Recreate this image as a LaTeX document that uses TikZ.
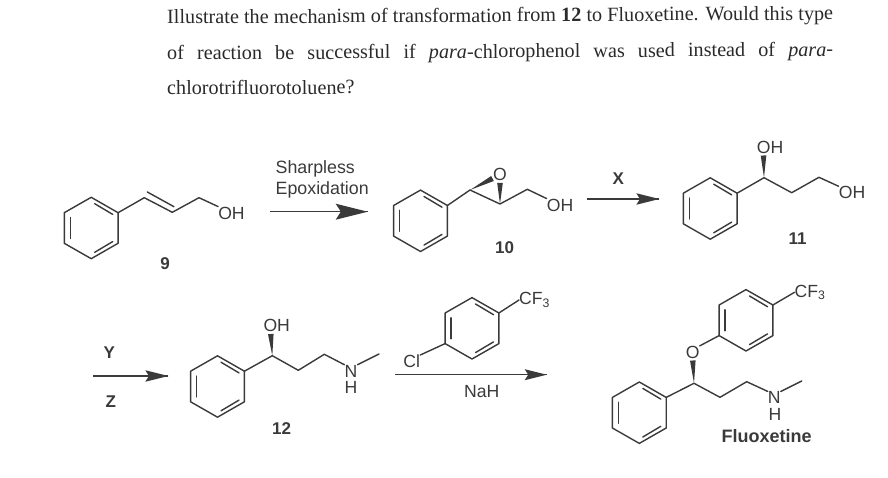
\documentclass[tikz,border=0pt]{standalone}
\usepackage{fontspec}
\setmainfont{Liberation Serif}
\newfontfamily\chemfont{Liberation Sans}
\usetikzlibrary{arrows.meta,calc}
\definecolor{ink}{HTML}{3A3A3A}
\definecolor{para}{HTML}{2A2A2A}
\tikzset{
  bond/.style={draw=ink,line width=1.4pt,line join=round,line cap=round},
  atom/.style={font=\chemfont\fontsize{17.6}{17.6}\selectfont,text=ink,inner sep=0pt,anchor=center},
  cmpd/.style={font=\chemfont\bfseries\fontsize{17}{17}\selectfont,text=ink,inner sep=0pt,anchor=center},
  reagent/.style={font=\chemfont\fontsize{17.8}{21}\selectfont,text=ink,inner sep=0pt,align=left},
  rxn/.style={draw=ink,line width=1.4pt},
  head/.style={fill=ink,draw=none},
  wedge/.style={fill=ink,draw=none},
  bodytext/.style={font=\fontsize{20.2}{20.2}\selectfont,text=para,inner sep=0pt,anchor=base west,rotate=0.35}
}
% ring: #1 name prefix, #2 x, #3 y (pointy top, R=30.7)
\newcommand{\benzring}[3]{%
  \begin{scope}[shift={(#2,#3)}]
    \coordinate (#1t) at (0,-30.7);
    \coordinate (#1ur) at (26.9,-15.3);
    \coordinate (#1lr) at (26.9,15.3);
    \coordinate (#1b) at (0,30.7);
    \coordinate (#1ll) at (-26.9,15.3);
    \coordinate (#1ul) at (-26.9,-15.3);
    \draw[bond] (#1t)--(#1ur)--(#1lr)--(#1b)--(#1ll)--(#1ul)--cycle;
    \draw[bond] (-21,-10.5)--(-21,10.5);
    \draw[bond] (3.5,-24.3)--(21.5,-13.6);
    \draw[bond] (3.5,24.3)--(21.5,13.6);
  \end{scope}}
% wedge: narrow at #1, wide at #2
\newcommand{\wedgebond}[2]{%
  \path let \p1=(#1),\p2=(#2),\n1={atan2(\y2-\y1,\x2-\x1)} in
    [wedge] (\p1) -- ($(\p2)+(\n1+90:2.8pt)$) -- ($(\p2)+(\n1-90:2.8pt)$) -- cycle;}
% reaction arrow
\newcommand{\rxnarrow}[5]{% name, from-x, to-x, y, head length
  \coordinate (#1a) at (#2,#4);
  \coordinate (#1b) at (#3,#4);
  \draw[rxn] (#1a) -- (#1b);
  \fill[head] (#1b) -- ++(-#5*1.0,-#5*0.25) -- ++(#5*0.16,#5*0.25) -- ++(-#5*0.16,#5*0.25) -- cycle;}
\begin{document}
\begin{tikzpicture}[x=1pt,y=-1pt]
\useasboundingbox (0,0) rectangle (888,478);

% question text
\node[bodytext] (l1) at (167,24) {\makebox[666pt][s]{Illustrate the mechanism of transformation from \textbf{12} to Fluoxetine. Would this type}};
\node[bodytext] (l2) at (167,60) {\makebox[666pt][s]{of reaction be successful if \textit{para}-chlorophenol was used instead of \textit{para}-}};
\node[bodytext] (l3) at (167,95) {chlorotrifluorotoluene?};

% --- 9 ---
\benzring{a}{91.2}{228}
\coordinate (a1) at (144.3,197.7);
\coordinate (a2) at (172.3,212.3);
\coordinate (a3) at (199,197.7);
\node[atom] (aoh) at (231.5,213) {OH};
\draw[bond] (aur)--(a1)--(a2)--(a3)--(aoh.north west);
\draw[bond] (147.3,192)--(174,206.7);
\node[cmpd] (l9) at (165,263.5) {9};

% arrow 1
\rxnarrow{r1}{270}{367.7}{211.7}{32}
\node[reagent,anchor=north west] (sh) at (275.5,160.5) {Sharpless\\Epoxidation};

% --- 10 ---
\benzring{b}{420.5}{220.8}
\coordinate (b1) at (470,190);
\coordinate (b2) at (500,204);
\coordinate (b3) at (527.3,189.3);
\node[atom] (bo) at (500,174.3) {O};
\node[atom] (boh) at (560,205) {OH};
\draw[bond] (bur)--(b1)--(b2)--(b3)--(boh.north west);
\coordinate (bw1) at (492.5,178.5);
\coordinate (bw2) at (500,183);
\wedgebond{b1}{bw1}
\wedgebond{b2}{bw2}
\node[cmpd] (l10) at (504.5,247.5) {10};

% arrow X
\rxnarrow{r2}{587.3}{659.3}{199}{23}
\node[cmpd] (lx) at (618.3,178.3) {X};

% --- 11 ---
\benzring{c}{710.2}{208.5}
\coordinate (c1) at (764,177.7);
\coordinate (c2) at (791.7,192.7);
\coordinate (c3) at (819,177.3);
\node[atom] (coh1) at (770,147.3) {OH};
\node[atom] (coh2) at (852,192.7) {OH};
\draw[bond] (cur)--(c1)--(c2)--(c3)--(coh2.north west);
\coordinate (cw) at (763.5,155.5);
\wedgebond{c1}{cw}
\node[cmpd] (l11) at (797.7,238.3) {11};

% arrow Y Z
\rxnarrow{r3}{93.3}{168.3}{376}{23}
\node[cmpd] (ly) at (109.3,352.3) {Y};
\node[cmpd] (lz) at (110.7,401.7) {Z};

% --- 12 ---
\benzring{d}{217.5}{386.5}
\coordinate (d1) at (272.3,355.7);
\coordinate (d2) at (298.3,370.3);
\coordinate (d3) at (324.3,354.3);
\coordinate (dm) at (379,354);
\node[atom] (dn) at (351,371) {N};
\node[atom] (dh) at (351,387.4) {H};
\node[atom] (doh) at (276.7,325.7) {OH};
\draw[bond] (dur)--(d1)--(d2)--(d3)--(dn.north west);
\draw[bond] (dn.north east)--(dm);
\coordinate (dw) at (270.8,334);
\wedgebond{d1}{dw}
\node[cmpd] (l12) at (281.7,428.3) {12};

% arrow with reagent
\rxnarrow{r4}{395}{546.7}{374.7}{22}
\benzring{e}{472}{328.3}
\node[atom] (ecl) at (411.7,361.7) {Cl};
\node[atom,anchor=west] (ecf) at (519,300) {CF\textsubscript{3}};
\draw[bond] (ell)--(ecl.north east);
\draw[bond] (eur)--(ecf.west);
\node[atom] (nah) at (481.7,391.7) {NaH};

% --- Fluoxetine ---
\benzring{f}{639.3}{412.7}
\coordinate (f1) at (694,383.3);
\coordinate (f2) at (720,397.3);
\coordinate (f3) at (746.7,381.7);
\coordinate (fm) at (801.7,381);
\node[atom] (fn) at (774.3,397.7) {N};
\node[atom] (fh) at (775,414) {H};
\node[atom] (fo) at (692.7,352.3) {O};
\draw[bond] (fur)--(f1)--(f2)--(f3)--(fn.north west);
\draw[bond] (fn.north east)--(fm);
\coordinate (fw) at (692.8,360.5);
\wedgebond{f1}{fw}
\benzring{g}{746}{320.3}
\draw[bond] (fo.north east)--(gll);
\node[atom,anchor=west] (gcf) at (794.5,292.3) {CF\textsubscript{3}};
\draw[bond] (gur)--(gcf.west);
\node[cmpd,font=\chemfont\bfseries\fontsize{18}{18}\selectfont] (lf) at (766.7,435.7) {Fluoxetine};
\end{tikzpicture}
\end{document}
